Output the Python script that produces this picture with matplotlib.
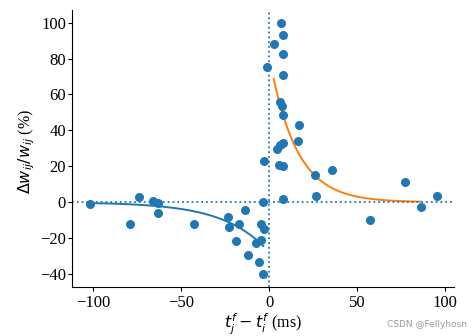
import numpy as np
import matplotlib
matplotlib.use("Agg")
import matplotlib.pyplot as plt

# spike timing difference (ms) and relative weight change (%)
dt_ms = [-102, -79, -74, -66, -63, -63, -43, -23.5, -23, -17, -13.6, -19, -12, -7.7,
         -4.5, -3.2, -4.5, -5.6, -3.7, -3.6, -3, -1.5,
         2.5, 6.6, 8.1, 7.9, 7.9, 6, 7, 7.9, 17, 16.4, 4.5, 6, 7.7, 5.3, 8.1, 7.6,
         25.8, 26.6, 35.4, 57.3, 77, 86, 95]
dw_pct = [-1, -12.4, 3.1, 0.5, -0.6, -6.1, -12.4, -8.5, -13.7, -12.4, -4.3, -21.7, -29.6, -23,
          -12.4, -14.8, -20.9, -33.3, -40.2, 0, 22.9, 75.3,
          88.3, 100, 93.3, 82.8, 70.9, 55.9, 53.5, 48.5, 42.9, 34.2, 29.8, 32, 32.8, 20.6, 20, 2,
          15, 3.3, 17.9, -9.8, 11.1, -2.8, 3.7]

# exponential STDP window fit parameters
a_plus, tau_plus = 81.0, 15.3
a_minus, tau_minus = 28.0, 25.0

dt = np.array(dt_ms)
t_pos = np.linspace(2.5, 86, 200)
t_neg = np.linspace(dt.min(), -3.4, 200)

plt.rcParams['font.family'] = 'serif'
plt.rcParams['font.serif'] = ['Liberation Serif', 'DejaVu Serif']
plt.rcParams['mathtext.fontset'] = 'dejavusans'

fig = plt.figure(figsize=(4.74, 3.36), dpi=100)
ax = fig.add_axes([0.1525, 0.146, 0.805, 0.824])

ax.scatter(dt_ms, dw_pct, s=30, color='tab:blue', zorder=3)
ax.plot(t_neg, -a_minus * np.exp(t_neg / tau_minus), color='tab:blue', lw=1.4)
ax.plot(t_pos, a_plus * np.exp(-t_pos / tau_plus), color='tab:orange', lw=1.4)
ax.axhline(0, color='tab:blue', ls=':', lw=1.3)
ax.axvline(0, color='tab:blue', ls=':', lw=1.3)

ax.spines['top'].set_visible(False)
ax.spines['right'].set_visible(False)
ax.set_xticks([-100, -50, 0, 50, 100])
ax.set_yticks([-40, -20, 0, 20, 40, 60, 80, 100])
ax.tick_params(labelsize=12, length=3)
ax.tick_params(axis='y', pad=1.5)
ax.tick_params(axis='x', pad=2.5)
ax.set_xlabel(r'$t_j^f - t_i^f$ (ms)', fontsize=11.5, labelpad=1)
ax.set_ylabel(r'$\Delta w_{ij}/w_{ij}$ (%)', fontsize=11.5)
ax.yaxis.set_label_coords(-0.092, 0.49)

fig.text(0.985, 0.02, 'CSDN @Fellyhosn', ha='right', va='bottom',
         fontsize=6.5, color='#9a9a9a', family='DejaVu Sans')

fig.savefig('out.png', dpi=100)
